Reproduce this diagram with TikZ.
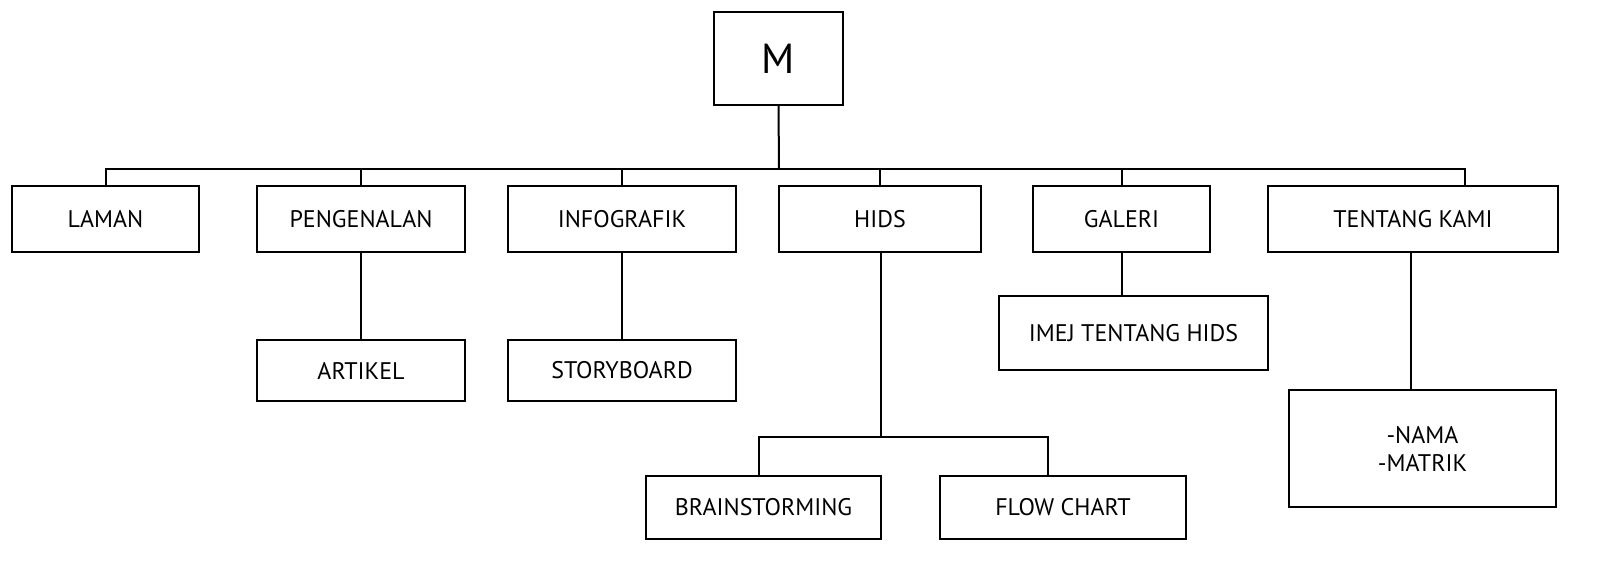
\documentclass[tikz,border=0pt]{standalone}
\usepackage{fontspec}
\setmainfont{PT Sans}
\begin{document}
\begin{tikzpicture}[x=0.5pt,y=-0.5pt,
  box/.style={draw,line width=1pt,inner sep=0pt,font=\fontsize{12}{14}\selectfont,align=center},
  ln/.style={line width=1pt}]
\useasboundingbox (0,0) rectangle (1600,563);
\node[box,minimum width=64.5pt,minimum height=46.5pt,font=\fontsize{21}{24}\selectfont] (m) at (778.5,58.5) {M};
\node[box,minimum width=93.5pt,minimum height=33pt] (laman) at (105.5,219) {LAMAN};
\node[box,minimum width=104pt,minimum height=33pt] (peng) at (361,219) {PENGENALAN};
\node[box,minimum width=114pt,minimum height=33pt] (info) at (622,219) {INFOGRAFIK};
\node[box,minimum width=101pt,minimum height=33pt] (hids) at (880,219) {HIDS};
\node[box,minimum width=88.5pt,minimum height=33pt] (gal) at (1121.5,219) {GALERI};
\node[box,minimum width=145pt,minimum height=33pt] (tk) at (1413,219) {TENTANG KAMI};
\node[box,minimum width=104pt,minimum height=30.5pt] (art) at (361,370.5) {ARTIKEL};
\node[box,minimum width=114pt,minimum height=30.5pt] (sb) at (622,370.5) {STORYBOARD};
\node[box,minimum width=134.5pt,minimum height=37pt] (imej) at (1133.5,333) {IMEJ TENTANG HIDS};
\node[box,minimum width=133.5pt,minimum height=58.5pt] (nama) at (1422.5,448.5) {-NAMA\\-MATRIK};
\node[box,minimum width=117.5pt,minimum height=31.5pt] (brain) at (763.5,507.5) {BRAINSTORMING};
\node[box,minimum width=123pt,minimum height=31.5pt] (flow) at (1063,507.5) {FLOW CHART};
\coordinate (b) at (779,169);
\coordinate (tkd) at (1465,186);
\coordinate (hb) at (881,437);
\coordinate (fd) at (1048,476);
\draw[ln] (m.south) -- (b);
\draw[ln] (laman.north) -- (laman.north|-b) -- (tkd|-b) -- (tkd);
\foreach \n in {peng,info,hids,gal} \draw[ln] (\n.north) -- (\n.north|-b);
\draw[ln] (peng.south) -- (art.north);
\draw[ln] (info.south) -- (sb.north);
\draw[ln] (gal.south-|1122,0) -- (imej.north-|1122,0);
\draw[ln] (1411,252) -- (nama.north-|1411,0);
\draw[ln] (hids.south-|881,0) -- (hb);
\draw[ln] (brain.north-|759,0) -- (759,437) -- (fd|-hb) -- (fd);
\end{tikzpicture}
\end{document}
